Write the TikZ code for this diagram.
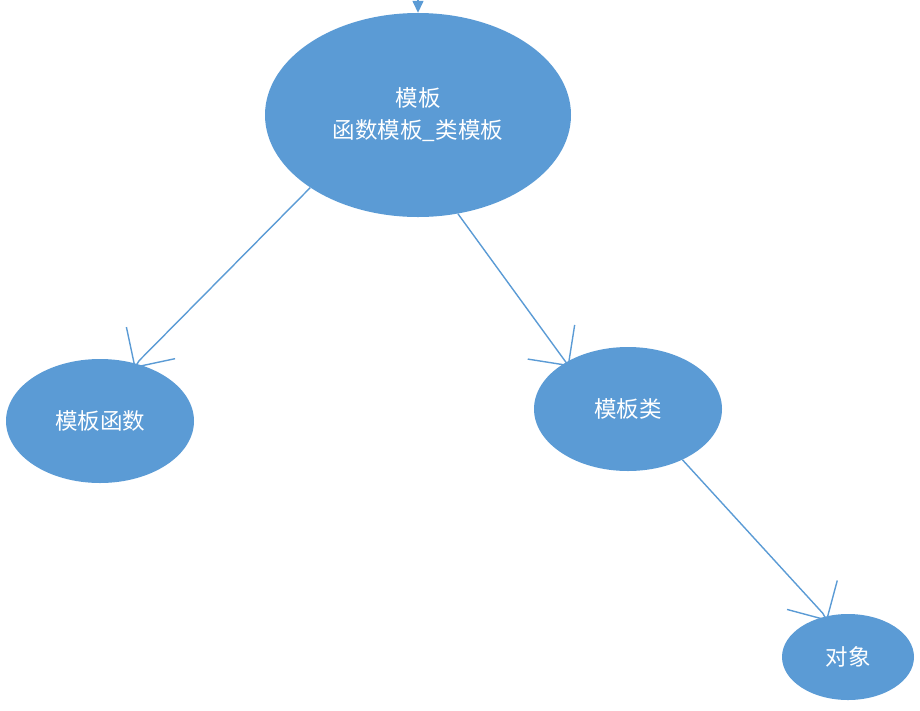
\documentclass[tikz,border=0pt]{standalone}
\usepackage{fontspec}
\newfontfamily\cjk{Noto Sans CJK SC}
\usetikzlibrary{shapes.geometric,arrows.meta,backgrounds,calc}
\definecolor{nodeblue}{HTML}{5B9BD5}
\begin{document}
\begin{tikzpicture}[x=1pt,y=-1pt,
  bubble/.style={ellipse,fill=nodeblue,draw=none,inner sep=0pt,text=white,font=\cjk\fontsize{22.5}{32}\selectfont,align=center},
  link/.style={draw=nodeblue,line width=1.4pt,shorten >=-5pt,-{Straight Barb[length=29pt,width=58pt,line width=1.4pt]}},
  entry/.style={draw=nodeblue,line width=1.4pt,-{Triangle[length=12pt,width=11pt]}}]
\useasboundingbox (0,0) rectangle (920,710);
\node[bubble,minimum width=306pt,minimum height=204pt] (big) at (418,115) {模板\\函数模板\_类模板};
\node[bubble,minimum width=188pt,minimum height=124pt] (f) at (100,421) {模板函数};
\node[bubble,minimum width=188pt,minimum height=124pt] (c) at (628,409) {模板类};
\node[bubble,minimum width=132pt,minimum height=86pt] (d) at (848,657) {对象};
\coordinate (top) at (418,0);
\coordinate (fk) at ($(f.57.4)!-4pt!(f.center)$);
\coordinate (dk) at ($(d.120)!-4pt!(d.center)$);
\begin{scope}[on background layer]
\draw[entry] (top) -- (big.north);
\draw[link] (big.214.3) -- (fk) -- (f.57.4);
\draw[link] (big.-68.7) -- (c.143);
\draw[link] (c.-43.4) -- (dk) -- (d.120);
\end{scope}
\end{tikzpicture}
\end{document}
